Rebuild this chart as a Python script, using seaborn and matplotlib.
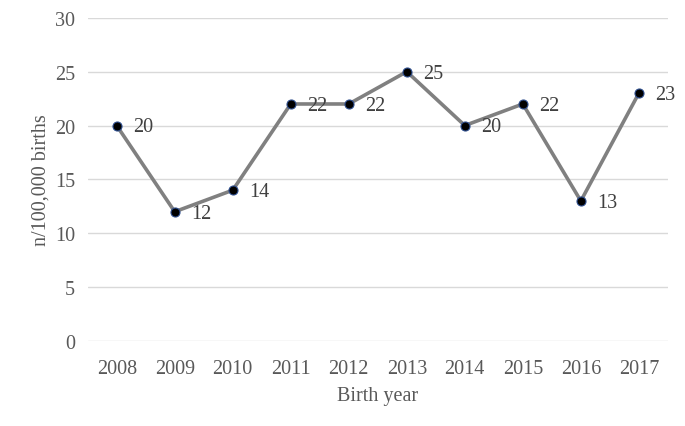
import matplotlib
matplotlib.use("Agg")
import matplotlib.pyplot as plt
import seaborn as sns
import pandas as pd

# data
years = ["2008", "2009", "2010", "2011", "2012", "2013", "2014", "2015", "2016", "2017"]
rates = [20, 12, 14, 22, 22, 25, 20, 22, 13, 23]

sns.set_theme(style="white")
plt.rcParams['font.family'] = ['Liberation Serif', 'DejaVu Serif']

df = pd.DataFrame({"year": years, "rate": rates})

fig = plt.figure(figsize=(6.85, 4.27), dpi=100)
ax = fig.add_axes([0.128, 0.199, 0.847, 0.757])

sns.lineplot(data=df, x="year", y="rate", ax=ax, color="#808080", linewidth=2.6,
             marker="o", markersize=6.5, markerfacecolor="black",
             markeredgecolor="#2f4f8f", markeredgewidth=0.8, sort=False)

for i, v in enumerate(rates):
    ax.annotate(str(v), (i, v), xytext=(12, -1), textcoords="offset points",
                ha="left", va="center", fontsize=14.5, color="#404040")

ax.set_xlim(-0.5, 9.5)
ax.set_ylim(0, 30)
ax.set_yticks(range(0, 31, 5))
ax.yaxis.grid(True, color="#d9d9d9", linewidth=1)
ax.set_axisbelow(True)
for s in ax.spines.values():
    s.set_visible(False)
ax.tick_params(axis="both", labelsize=14.5, labelcolor="#595959", length=0)
ax.tick_params(axis="x", pad=13)
ax.tick_params(axis="y", pad=9)
ax.set_xlabel("Birth year", fontsize=14.5, color="#595959", labelpad=6)
ax.set_ylabel("n/100,000 births", fontsize=14.5, color="#595959", labelpad=3)

fig.savefig("out.png", dpi=100)
